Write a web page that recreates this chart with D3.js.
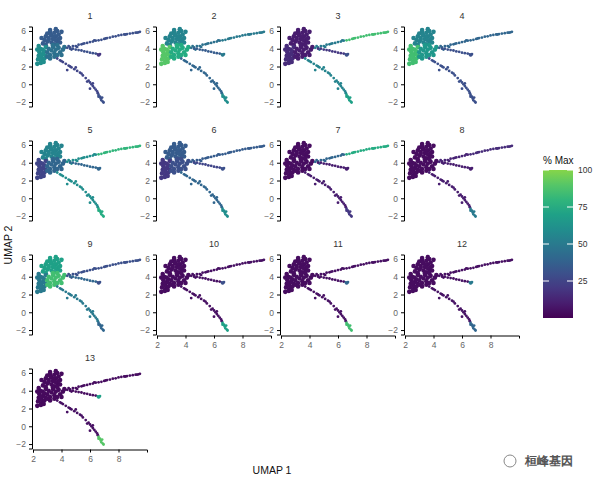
<!DOCTYPE html>
<html><head><meta charset="utf-8">
<script src="https://cdn.jsdelivr.net/npm/d3@7"></script>
<style>body{margin:0;background:#fff}text{font-family:"Liberation Sans",Arial,sans-serif}</style>
</head><body><svg id="c" width="600" height="485"></svg>
<script>
const panels=["1","2","3","4","5","6","7","8","9","10","11","12","13"];
const regions=["A","B","C","D1","D2","E","H","F","G"];
const pctMax={
 "1":[35,60,45,30,30,30,20,25,30],
 "2":[55,90,75,45,50,35,50,40,60],
 "3":[10,15,10,50,85,20,30,55,70],
 "4":[55,85,65,40,40,30,30,30,30],
 "5":[55,25,40,60,80,40,40,60,75],
 "6":[35,20,30,35,35,25,30,40,60],
 "7":[4,4,4,40,75,10,10,10,20],
 "8":[4,4,4,12,15,10,10,10,50],
 "9":[70,50,85,30,30,40,30,50,40],
 "10":[4,4,4,5,5,5,30,5,70],
 "11":[4,4,4,5,5,5,40,5,85],
 "12":[4,4,4,5,5,5,50,6,40],
 "13":[3,3,3,4,4,4,70,5,90]
};
const cells={
 A:[[2.8,5.0],[2.9,5.4],[3.0,5.7],[3.1,5.2],[3.2,5.9],[3.3,5.5],[3.4,5.1],[3.5,5.8],[3.6,5.4],[3.7,6.0],[3.8,5.6],[3.9,5.2],[3.7,4.8],[3.3,4.7],[3.0,4.8],[2.7,4.6],[3.5,4.5],[3.9,4.7],[3.2,6.1],[3.6,6.2],[2.6,5.2],[4.0,5.9],[3.45,5.35],[3.1,5.0],[3.8,5.1],[3.25,5.6],[3.55,5.0],[2.9,4.4]],
 B:[[2.3,2.3],[2.35,2.8],[2.4,3.2],[2.45,3.6],[2.5,4.0],[2.4,4.3],[2.6,2.6],[2.6,3.0],[2.7,3.4],[2.65,3.9],[2.8,2.9],[2.8,3.7],[2.9,4.2],[2.55,2.4],[2.3,3.9],[2.75,2.5],[2.5,3.3],[2.9,3.2]],
 C:[[3.0,3.6],[3.1,4.0],[3.2,3.3],[3.3,3.8],[3.4,4.2],[3.5,3.5],[3.6,3.9],[3.7,3.3],[3.8,4.1],[3.9,3.6],[4.1,3.9],[4.2,4.2],[3.2,2.9],[3.5,3.1],[3.0,3.1],[3.4,4.4],[3.7,4.4],[4.0,3.3]],
 D1:[[4.4,4.1],[4.6,4.15],[4.8,4.3],[4.7,3.9],[5.0,4.3],[5.2,4.45],[5.4,4.5],[5.6,4.6],[5.8,4.65],[6.0,4.75],[6.2,4.8],[6.4,4.9],[5.1,4.2],[4.5,4.3],[5.5,4.55],[6.3,4.95]],
 D2:[[6.6,4.95],[6.8,5.0],[7.0,5.1],[7.2,5.2],[7.4,5.25],[7.6,5.35],[7.8,5.4],[8.0,5.5],[8.2,5.55],[8.4,5.6],[8.6,5.65],[8.8,5.7],[9.0,5.75],[9.2,5.8],[9.4,5.85],[9.5,5.9],[7.1,5.15],[8.5,5.6],[9.3,5.8]],
 E:[[4.6,4.0],[4.8,4.0],[5.0,3.9],[5.2,3.85],[5.4,3.8],[5.6,3.7],[5.8,3.65],[6.0,3.55],[6.2,3.5],[6.4,3.45]],
 H:[[6.55,3.35],[6.65,3.3],[6.7,3.4],[6.6,3.25]],
 F:[[3.7,2.9],[3.9,2.7],[4.1,2.5],[4.3,2.3],[4.5,2.1],[4.7,1.9],[4.9,1.7],[5.1,1.5],[5.3,1.3],[5.5,1.0],[5.7,0.7],[5.9,0.4],[6.0,0.2],[6.1,0.0],[6.2,-0.2],[6.3,-0.4],[6.4,-0.6],[6.5,-0.8],[6.55,-1.0],[4.4,1.6],[5.0,1.9],[6.0,-0.5],[5.8,0.3],[4.0,2.6],[4.6,2.0],[5.4,1.2],[6.2,0.1]],
 G:[[6.6,-1.2],[6.7,-1.4],[6.75,-1.6],[6.8,-1.8],[6.9,-1.95],[6.95,-2.05],[6.85,-1.5],[6.6,-1.4]]
};
const xTicks=[2,4,6,8], yTicks=[-2,0,2,4,6], legendTicks=[25,50,75,100];

const svg=d3.select("#c");
const col=v=>d3.interpolateViridis(0.82*v/100);
const x=d3.scaleLinear().domain([2,10]).range([0,114]);
const y=d3.scaleLinear().domain([-2.5,6.5]).range([80,0]);
panels.forEach((p,i)=>{
  const c=i%4,r=Math.floor(i/4);
  const g=svg.append("g").attr("transform",`translate(${33+c*124},${26.5+r*114})`);
  g.append("text").attr("x",57).attr("y",-8).attr("text-anchor","middle").attr("font-size",9).attr("fill","#333").text(p);
  regions.forEach((rg,k)=>{
    g.append("g").selectAll("circle").data(cells[rg]).join("circle")
     .attr("cx",d=>x(d[0])).attr("cy",d=>y(d[1]))
     .attr("r",["A","B","C"].includes(rg)?2.3:1.4)
     .attr("fill",col(pctMax[p][k]));
  });
  const ya=g.append("g").attr("transform","translate(-1,0)").call(d3.axisLeft(y).tickValues(yTicks).tickSize(3).tickPadding(3));
  ya.selectAll("text").attr("font-size",8.5).attr("fill","#666");
  if(i>=9){
    const xa=g.append("g").attr("transform","translate(0,81)").call(d3.axisBottom(x).tickValues(xTicks).tickSize(3).tickPadding(3));
    xa.selectAll("text").attr("font-size",8.5).attr("fill","#666");
  }
  g.selectAll(".domain").attr("stroke","#000");
});
svg.append("text").attr("transform","translate(12,245) rotate(-90)").attr("text-anchor","middle").attr("font-size",10.5).attr("fill","#111").text("UMAP 2");
svg.append("text").attr("x",272).attr("y",474).attr("text-anchor","middle").attr("font-size",10.5).attr("fill","#111").text("UMAP 1");
const defs=svg.append("defs");
const lg=defs.append("linearGradient").attr("id","lg").attr("x1",0).attr("x2",0).attr("y1",1).attr("y2",0);
d3.range(0,101,10).forEach(v=>lg.append("stop").attr("offset",v+"%").attr("stop-color",col(v)));
const ls=d3.scaleLinear().domain([0,100]).range([318,170]);
svg.append("text").attr("x",543).attr("y",164).attr("font-size",10).attr("fill","#111").text("% Max");
svg.append("rect").attr("x",543).attr("y",170).attr("width",30).attr("height",148).attr("fill","url(#lg)");
legendTicks.forEach(t=>{
  svg.append("line").attr("x1",543).attr("x2",549).attr("y1",ls(t)).attr("y2",ls(t)).attr("stroke","#fff");
  svg.append("line").attr("x1",567).attr("x2",573).attr("y1",ls(t)).attr("y2",ls(t)).attr("stroke","#fff");
  svg.append("text").attr("x",578).attr("y",ls(t)+3).attr("font-size",8.5).attr("fill","#333").text(t);
});
svg.append("text").attr("x",525).attr("y",465).attr("font-size",12).attr("font-weight","bold").attr("fill","#555").attr("font-family","Noto Sans CJK SC").text("桓峰基因");
svg.append("circle").attr("cx",510).attr("cy",461).attr("r",6).attr("fill","none").attr("stroke","#888");
</script></body></html>
